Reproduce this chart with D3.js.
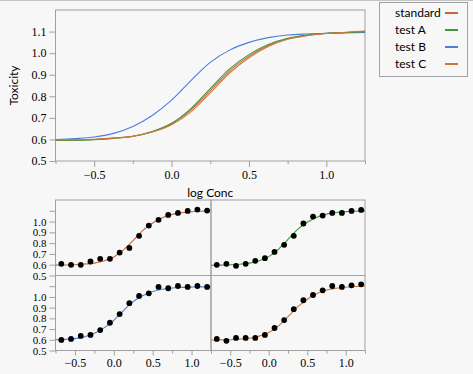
<!DOCTYPE html>
<html>
<head>
<meta charset="utf-8">
<script src="https://cdn.jsdelivr.net/npm/d3@7"></script>
<style>
  html, body { margin: 0; padding: 0; background: #f7f7f7; }
  svg { display: block; }
  .tick-label { font-family: "Liberation Serif", serif; font-size: 12px; fill: #000; }
  .panel-y .tick-label { font-size: 11px; }
  .title { font-family: Lato, "Open Sans", sans-serif; font-size: 12px; fill: #000; }
</style>
</head>
<body>
<div id="chart"></div>
<script>
// observed points, one array per series
var logConc = [-0.675, -0.55, -0.425, -0.3, -0.175, -0.05, 0.075, 0.2, 0.325, 0.45, 0.575, 0.7, 0.825, 0.95, 1.075, 1.2];
var standard = [0.608, 0.599, 0.599, 0.630, 0.655, 0.655, 0.713, 0.756, 0.868, 0.963, 1.016, 1.062, 1.080, 1.099, 1.111, 1.102];
var testA = [0.599, 0.608, 0.590, 0.608, 0.636, 0.661, 0.719, 0.784, 0.868, 0.982, 1.046, 1.056, 1.080, 1.080, 1.099, 1.108];
var testB = [0.599, 0.608, 0.636, 0.645, 0.691, 0.759, 0.840, 0.942, 1.009, 1.034, 1.093, 1.081, 1.102, 1.093, 1.102, 1.093];
var testC = [0.608, 0.590, 0.617, 0.617, 0.617, 0.645, 0.710, 0.784, 0.886, 0.969, 1.018, 1.062, 1.102, 1.093, 1.108, 1.118];

// fitted curves
var fitX = [-0.75, -0.625, -0.5, -0.375, -0.25, -0.125, 0, 0.125, 0.25, 0.375, 0.5, 0.625, 0.75, 0.875, 1, 1.125, 1.25];
var fitStandard = [0.596, 0.597, 0.600, 0.606, 0.615, 0.636, 0.672, 0.737, 0.826, 0.918, 0.986, 1.036, 1.067, 1.082, 1.091, 1.096, 1.100];
var fitA = [0.595, 0.596, 0.599, 0.605, 0.615, 0.637, 0.675, 0.743, 0.836, 0.927, 0.993, 1.040, 1.069, 1.084, 1.092, 1.096, 1.099];
var fitB = [0.600, 0.604, 0.611, 0.628, 0.660, 0.711, 0.782, 0.873, 0.957, 1.014, 1.050, 1.072, 1.084, 1.089, 1.092, 1.094, 1.096];
var fitC = [0.598, 0.599, 0.601, 0.606, 0.614, 0.634, 0.668, 0.728, 0.816, 0.908, 0.979, 1.031, 1.064, 1.081, 1.091, 1.097, 1.103];

var seriesNames = ["standard", "test A", "test B", "test C"];
var seriesColors = ["#c8643a", "#3c9a3c", "#4a7fdc", "#cc7838"];

var xTicks = [-0.5, 0, 0.5, 1];
var xMinorTicks = [-0.75, -0.25, 0.25, 0.75, 1.25];
var yTicksTop = [0.5, 0.6, 0.7, 0.8, 0.9, 1.0, 1.1];
var yTicksPanel = [0.5, 0.6, 0.7, 0.8, 0.9, 1.0, 1.1];
var yLabelsPanel = [0.5, 0.6, 0.7, 0.8, 0.9, 1.0];

var series = seriesNames.map((name, i) => ({
    name: name,
    color: seriesColors[i],
    points: [standard, testA, testB, testC][i],
    fit: [fitStandard, fitA, fitB, fitC][i]
}));

var width = 473,
    height = 374,
    frameColor = "#a0a0a0";

var svg = d3.select("#chart")
    .append("svg")
    .attr("width", width)
    .attr("height", height);

svg.append("rect")
    .attr("width", width).attr("height", height)
    .attr("fill", "#f7f7f7");

// thin window edge at the very top
svg.append("line")
    .attr("x1", 0).attr("x2", width)
    .attr("y1", 0.5).attr("y2", 0.5)
    .attr("stroke", "#c4c4c4");

var fmt = d3.format(".1f");

/* ---------- overlay plot ---------- */
var box = {left: 55.5, right: 365, top: 10, bottom: 161};
var xTop = d3.scaleLinear().domain([-0.75, 1.25]).range([box.left, box.right]);
var yTop = d3.scaleLinear().domain([0.5, 1.2]).range([box.bottom, box.top]);

var gTop = svg.append("g");

gTop.append("rect")
    .attr("x", box.left).attr("y", box.top)
    .attr("width", box.right - box.left).attr("height", box.bottom - box.top)
    .attr("fill", "none").attr("stroke", frameColor);

var lineTop = d3.line()
    .x((d, i) => xTop(fitX[i]))
    .y(d => yTop(d))
    .curve(d3.curveMonotoneX);

[2, 0, 1, 3].forEach(i => {
    gTop.append("path")
        .attr("d", lineTop(series[i].fit))
        .attr("fill", "none")
        .attr("stroke", series[i].color)
        .attr("stroke-width", 1.1);
});

// x axis with minor ticks
gTop.append("g")
    .attr("transform", `translate(0,${box.bottom})`)
    .call(d3.axisBottom(xTop).tickValues(xTicks).tickSize(6).tickSizeOuter(0).tickFormat(fmt))
    .call(g => g.select(".domain").remove());
gTop.append("g")
    .attr("transform", `translate(0,${box.bottom})`)
    .call(d3.axisBottom(xTop).tickValues(xMinorTicks).tickSize(3).tickSizeOuter(0).tickFormat(""))
    .call(g => g.select(".domain").remove());

gTop.append("g")
    .attr("transform", `translate(${box.left},0)`)
    .call(d3.axisLeft(yTop).tickValues(yTicksTop).tickSize(6).tickSizeOuter(0).tickFormat(fmt))
    .call(g => g.select(".domain").remove());

gTop.append("text")
    .attr("class", "title")
    .attr("x", (box.left + box.right) / 2)
    .attr("y", 197)
    .attr("text-anchor", "middle")
    .text("log Conc");

gTop.append("text")
    .attr("class", "title")
    .attr("transform", `translate(18,${(box.top + box.bottom) / 2}) rotate(-90)`)
    .attr("text-anchor", "middle")
    .text("Toxicity");

// legend
var legend = svg.append("g");
legend.append("rect")
    .attr("x", 379.5).attr("y", 2.5)
    .attr("width", 88).attr("height", 74)
    .attr("fill", "#f7f7f7").attr("stroke", frameColor);

series.forEach((s, i) => {
    var y = 13 + i * 17;
    legend.append("text")
        .attr("class", "title")
        .attr("x", 395).attr("y", y + 4)
        .text(s.name);
    legend.append("line")
        .attr("x1", 445).attr("x2", 458)
        .attr("y1", y).attr("y2", y)
        .attr("stroke", s.color).attr("stroke-width", 2);
});

/* ---------- 2x2 panels ---------- */
var cols = [[55.5, 211], [211, 365]];
var rows = [[200, 275.5], [275.5, 350.5]];

series.forEach((s, i) => {
    var c = cols[i % 2], r = rows[Math.floor(i / 2)];
    var x = d3.scaleLinear().domain([-0.75, 1.25]).range(c);
    var y = d3.scaleLinear().domain([0.5, 1.2]).range([r[1], r[0]]);
    var g = svg.append("g");

    g.append("rect")
        .attr("x", c[0]).attr("y", r[0])
        .attr("width", c[1] - c[0]).attr("height", r[1] - r[0])
        .attr("fill", "none").attr("stroke", frameColor);

    var line = d3.line()
        .x((d, j) => x(fitX[j]))
        .y(d => y(d))
        .curve(d3.curveMonotoneX);

    g.append("path")
        .attr("d", line(s.fit))
        .attr("fill", "none")
        .attr("stroke", s.color)
        .attr("stroke-width", 1.1);

    g.selectAll(".dot")
        .data(s.points)
        .enter().append("circle")
        .attr("class", "dot")
        .attr("cx", (d, j) => x(logConc[j]))
        .attr("cy", d => y(d))
        .attr("r", 2.9)
        .attr("fill", "#000");

    // left column gets the y axis
    if (i % 2 === 0) {
        g.append("g")
            .attr("class", "panel-y")
            .attr("transform", `translate(${c[0]},0)`)
            .call(d3.axisLeft(y).tickValues(yTicksPanel).tickSize(6).tickSizeOuter(0)
                .tickFormat(d => yLabelsPanel.includes(d) ? fmt(d) : ""))
            .call(g => g.select(".domain").remove());
    }
    // bottom row gets the x axis
    if (i >= 2) {
        g.append("g")
            .attr("transform", `translate(0,${r[1]})`)
            .call(d3.axisBottom(x).tickValues(xTicks).tickSize(5).tickSizeOuter(0).tickFormat(fmt))
            .call(g => g.select(".domain").remove());
        g.append("g")
            .attr("transform", `translate(0,${r[1]})`)
            .call(d3.axisBottom(x).tickValues(xMinorTicks).tickSize(3).tickSizeOuter(0).tickFormat(""))
            .call(g => g.select(".domain").remove());
    }
});

// axis styling
svg.selectAll(".tick line").attr("stroke", frameColor);
svg.selectAll(".tick text")
    .attr("class", "tick-label")
    .attr("fill", "#000");
</script>
</body>
</html>
